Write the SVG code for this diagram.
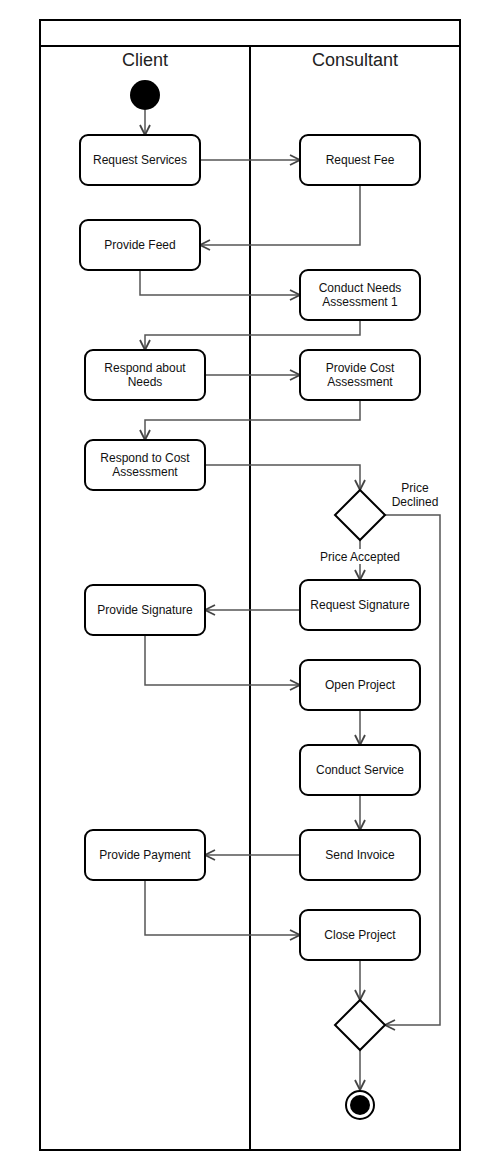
<svg xmlns="http://www.w3.org/2000/svg" width="482" height="1170" viewBox="0 0 482 1170">
<defs>
<marker id="arr" viewBox="0 0 12 12" refX="11" refY="6" markerWidth="12" markerHeight="12" markerUnits="userSpaceOnUse" orient="auto">
<path d="M1,1 L11,6 L1,11" fill="none" stroke="#444" stroke-width="1.8"/>
</marker>
<style>
.box{fill:#fff;stroke:#000;stroke-width:2}
.t{font-family:"Liberation Sans",Arial,sans-serif;font-size:12px;fill:#111;text-anchor:middle}
.lane{font-family:"Liberation Sans",Arial,sans-serif;font-size:18px;fill:#222;text-anchor:middle}
.c{fill:none;stroke:#555;stroke-width:1.5;marker-end:url(#arr)}
.c2{fill:none;stroke:#555;stroke-width:1.5}
.frame{fill:#fff;stroke:#000;stroke-width:2}
</style>
</defs>
<rect width="482" height="1170" fill="#fff"/>
<g id="pool">
<rect class="frame" x="40" y="20" width="420" height="1130"/>
<line x1="40" y1="46" x2="460" y2="46" stroke="#000" stroke-width="2"/>
<line x1="250" y1="46" x2="250" y2="1150" stroke="#000" stroke-width="2"/>
<text class="lane" x="145" y="66">Client</text>
<text class="lane" x="355" y="66">Consultant</text>
</g>
<g id="connectors">
<path class="c" d="M145,110 V135"/>
<path class="c" d="M200,160 H300"/>
<path class="c" d="M360,185 V245 H200"/>
<path class="c" d="M140,270 V295 H300"/>
<path class="c" d="M360,320 V335 H145 V350"/>
<path class="c" d="M205,375 H300"/>
<path class="c" d="M360,400 V420 H145 V440"/>
<path class="c" d="M205,465 H360 V490"/>
<path class="c" d="M385,515 H440 V1025 H385"/>
<path class="c" d="M360,540 V580"/>
<path class="c" d="M300,610 H205"/>
<path class="c" d="M145,635 V685 H300"/>
<path class="c" d="M360,710 V745"/>
<path class="c" d="M360,795 V830"/>
<path class="c" d="M300,855 H205"/>
<path class="c" d="M145,880 V935 H300"/>
<path class="c" d="M360,960 V1000"/>
<path class="c" d="M360,1050 V1090"/>
<rect x="318" y="549" width="84" height="15" fill="#fff"/>
<text class="t" x="360" y="561">Price Accepted</text>
<text class="t" x="415" y="492">Price</text>
<text class="t" x="415" y="506">Declined</text>
</g>
<g id="start"><circle cx="145" cy="95" r="15" fill="#000"/></g>
<g id="requestServices"><rect class="box" x="80" y="135" width="120" height="50" rx="8"/><text class="t" x="140" y="164">Request Services</text></g>
<g id="requestFee"><rect class="box" x="300" y="135" width="120" height="50" rx="8"/><text class="t" x="360" y="164">Request Fee</text></g>
<g id="provideFeed"><rect class="box" x="80" y="220" width="120" height="50" rx="8"/><text class="t" x="140" y="249">Provide Feed</text></g>
<g id="conductNeeds"><rect class="box" x="300" y="270" width="120" height="50" rx="8"/><text class="t" x="360" y="292">Conduct Needs</text><text class="t" x="360" y="306">Assessment 1</text></g>
<g id="respondNeeds"><rect class="box" x="85" y="350" width="120" height="50" rx="8"/><text class="t" x="145" y="372">Respond about</text><text class="t" x="145" y="386">Needs</text></g>
<g id="provideCost"><rect class="box" x="300" y="350" width="120" height="50" rx="8"/><text class="t" x="360" y="372">Provide Cost</text><text class="t" x="360" y="386">Assessment</text></g>
<g id="respondCost"><rect class="box" x="85" y="440" width="120" height="50" rx="8"/><text class="t" x="145" y="462">Respond to Cost</text><text class="t" x="145" y="476">Assessment</text></g>
<g id="decision1"><path d="M360,490 L385,515 L360,540 L335,515 Z" fill="#fff" stroke="#000" stroke-width="2"/></g>
<g id="requestSignature"><rect class="box" x="300" y="580" width="120" height="50" rx="8"/><text class="t" x="360" y="609">Request Signature</text></g>
<g id="provideSignature"><rect class="box" x="85" y="585" width="120" height="50" rx="8"/><text class="t" x="145" y="614">Provide Signature</text></g>
<g id="openProject"><rect class="box" x="300" y="660" width="120" height="50" rx="8"/><text class="t" x="360" y="689">Open Project</text></g>
<g id="conductService"><rect class="box" x="300" y="745" width="120" height="50" rx="8"/><text class="t" x="360" y="774">Conduct Service</text></g>
<g id="sendInvoice"><rect class="box" x="300" y="830" width="120" height="50" rx="8"/><text class="t" x="360" y="859">Send Invoice</text></g>
<g id="providePayment"><rect class="box" x="85" y="830" width="120" height="50" rx="8"/><text class="t" x="145" y="859">Provide Payment</text></g>
<g id="closeProject"><rect class="box" x="300" y="910" width="120" height="50" rx="8"/><text class="t" x="360" y="939">Close Project</text></g>
<g id="decision2"><path d="M360,1000 L385,1025 L360,1050 L335,1025 Z" fill="#fff" stroke="#000" stroke-width="2"/></g>
<g id="end"><circle cx="360" cy="1105" r="14" fill="#fff" stroke="#000" stroke-width="2"/><circle cx="360" cy="1105" r="10" fill="#000"/></g>
</svg>
